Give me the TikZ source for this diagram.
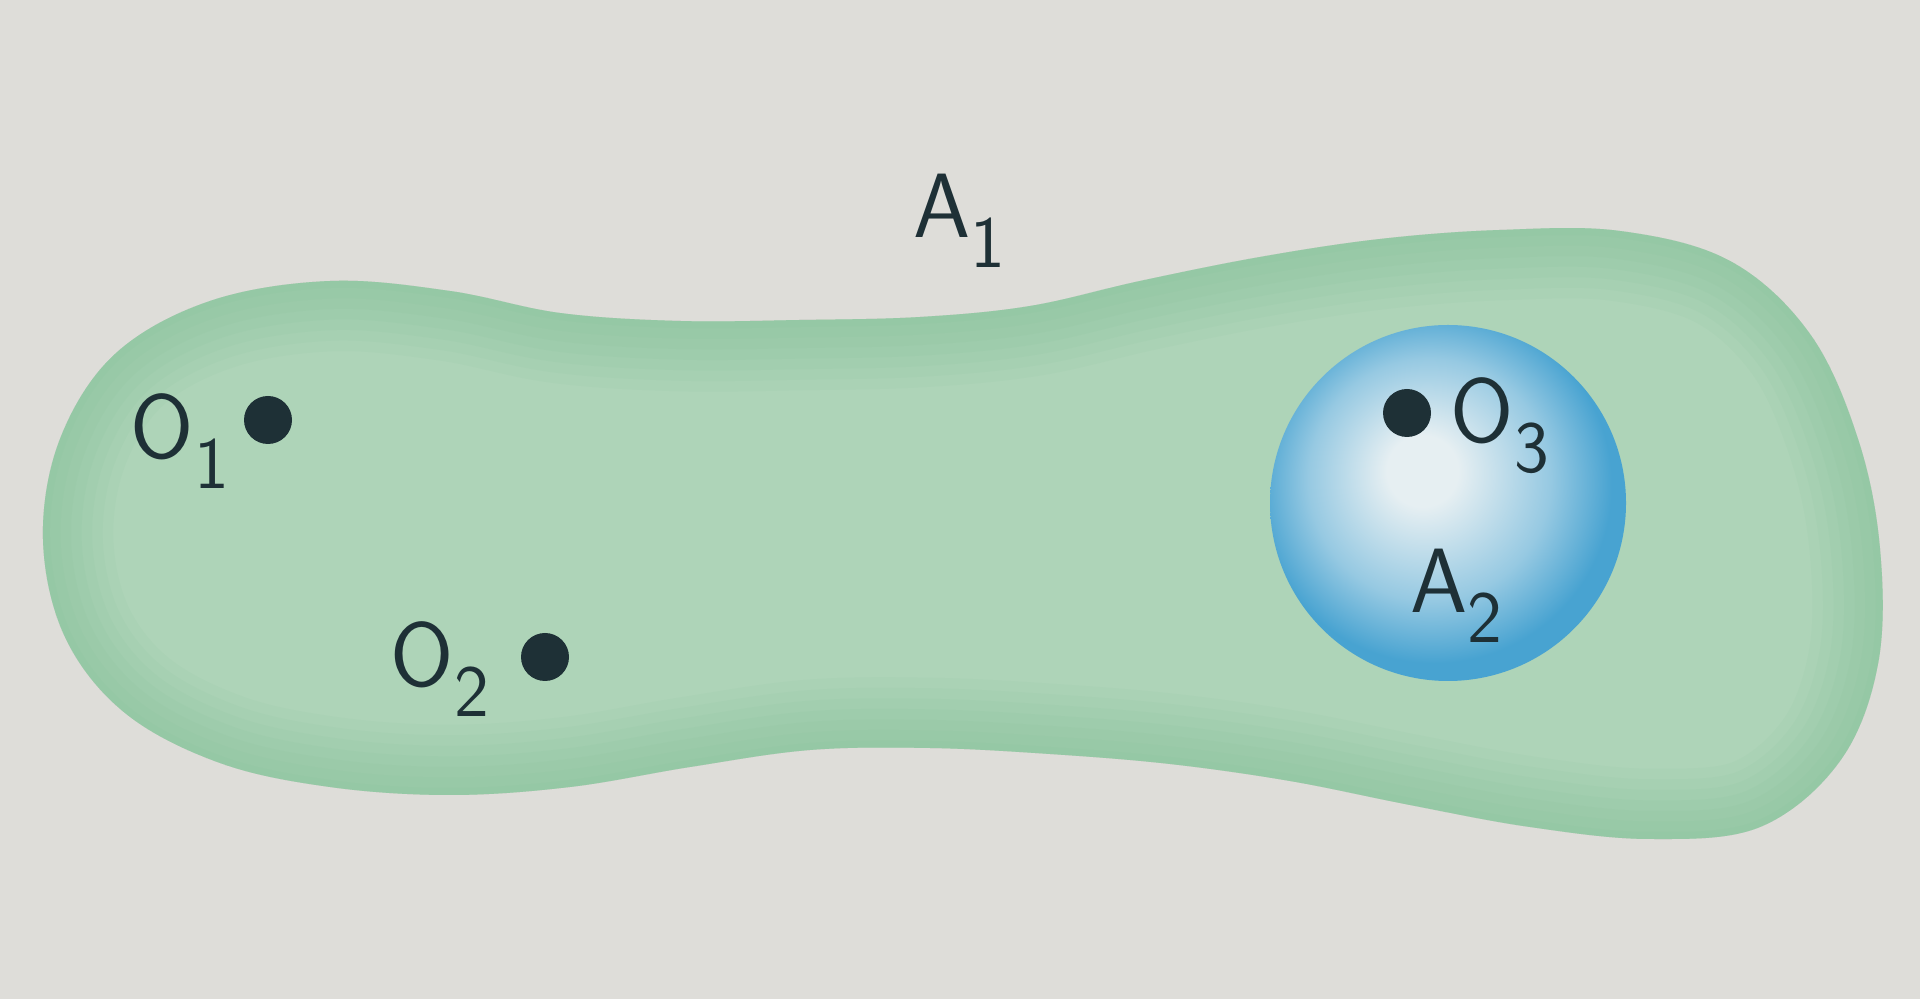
\documentclass[tikz,border=0pt]{standalone}
\usetikzlibrary{positioning}

\definecolor{paper}{RGB}{222,221,217}
\definecolor{blobgreen}{RGB}{174,212,184}
\definecolor{rimgreen}{RGB}{118,188,142}
\definecolor{bubhi}{RGB}{230,239,242}
\definecolor{bubmid}{RGB}{150,201,226}
\definecolor{bubedge}{RGB}{72,163,209}
\definecolor{inkdark}{RGB}{30,48,54}

\pgfdeclareradialshading{bubble}{\pgfpoint{-4bp}{5bp}}{%
  color(0bp)=(bubhi); color(5bp)=(bubhi); color(17bp)=(bubmid);
  color(25bp)=(bubedge); color(50bp)=(bubedge)}

% label with a lowered index
\newcommand{\lowsub}[2]{#1\raisebox{-0.3cm}{\fontsize{21}{24}\selectfont #2}}

\begin{document}
\begin{tikzpicture}[
  lbl/.style={font=\fontsize{26}{30}\selectfont\sffamily, text=inkdark,
    inner sep=0pt, anchor=base west},
  dot/.style={circle, fill=inkdark, minimum size=0.48cm, inner sep=0pt},
]

\useasboundingbox (0,0) rectangle (19.2,9.99);
\fill[paper] (0,0) rectangle (19.2,9.99);

% the region A1
\path[save path=\blobpath] plot[smooth cycle, tension=0.6] coordinates {
  (0.43,4.60) (0.60,5.60) (1.15,6.45) (2.10,6.98) (3.30,7.18) (4.50,7.08)
  (5.60,6.86) (6.80,6.78) (8.00,6.79) (9.20,6.82) (10.30,6.93) (11.40,7.18)
  (12.60,7.42) (13.80,7.60) (15.00,7.69) (16.20,7.68) (17.30,7.38)
  (18.10,6.65) (18.58,5.60) (18.80,4.50) (18.78,3.35) (18.40,2.38)
  (17.60,1.72) (16.50,1.60) (15.30,1.72) (14.10,1.94) (12.90,2.18)
  (11.70,2.35) (10.50,2.45) (9.30,2.51) (8.10,2.49) (6.90,2.32)
  (5.70,2.12) (4.50,2.04) (3.30,2.12) (2.20,2.36) (1.25,2.86) (0.65,3.62)};
\fill[blobgreen, use path=\blobpath];
\begin{scope}
  \clip[use path=\blobpath];
  \foreach \w in {40,34,...,4} {
    \draw[rimgreen, opacity=0.07, line width=\w pt, use path=\blobpath];
  }
\end{scope}

% the disc A2
\node[circle, minimum size=3.56cm, inner sep=0pt, shading=bubble] (disc) at (14.48,4.96) {};

% points
\node[dot] (o1) at (2.68,5.79) {};
\node[dot] (o2) at (5.45,3.42) {};
\node[dot] (o3) at (14.07,5.86) {};

% labels
\node[lbl] (a1lab) at (9.13,7.61) {\lowsub{A}{1}};
\node[lbl] (a2lab) at (14.10,3.86) {\lowsub{A}{2}};
\node[lbl] (o1lab) at (1.30,5.40) {\lowsub{O}{1}};
\node[lbl] (o2lab) at (3.90,3.12) {\lowsub{O}{2}};
\node[lbl] (o3lab) at (14.50,5.56) {\lowsub{O}{3}};

\end{tikzpicture}
\end{document}
